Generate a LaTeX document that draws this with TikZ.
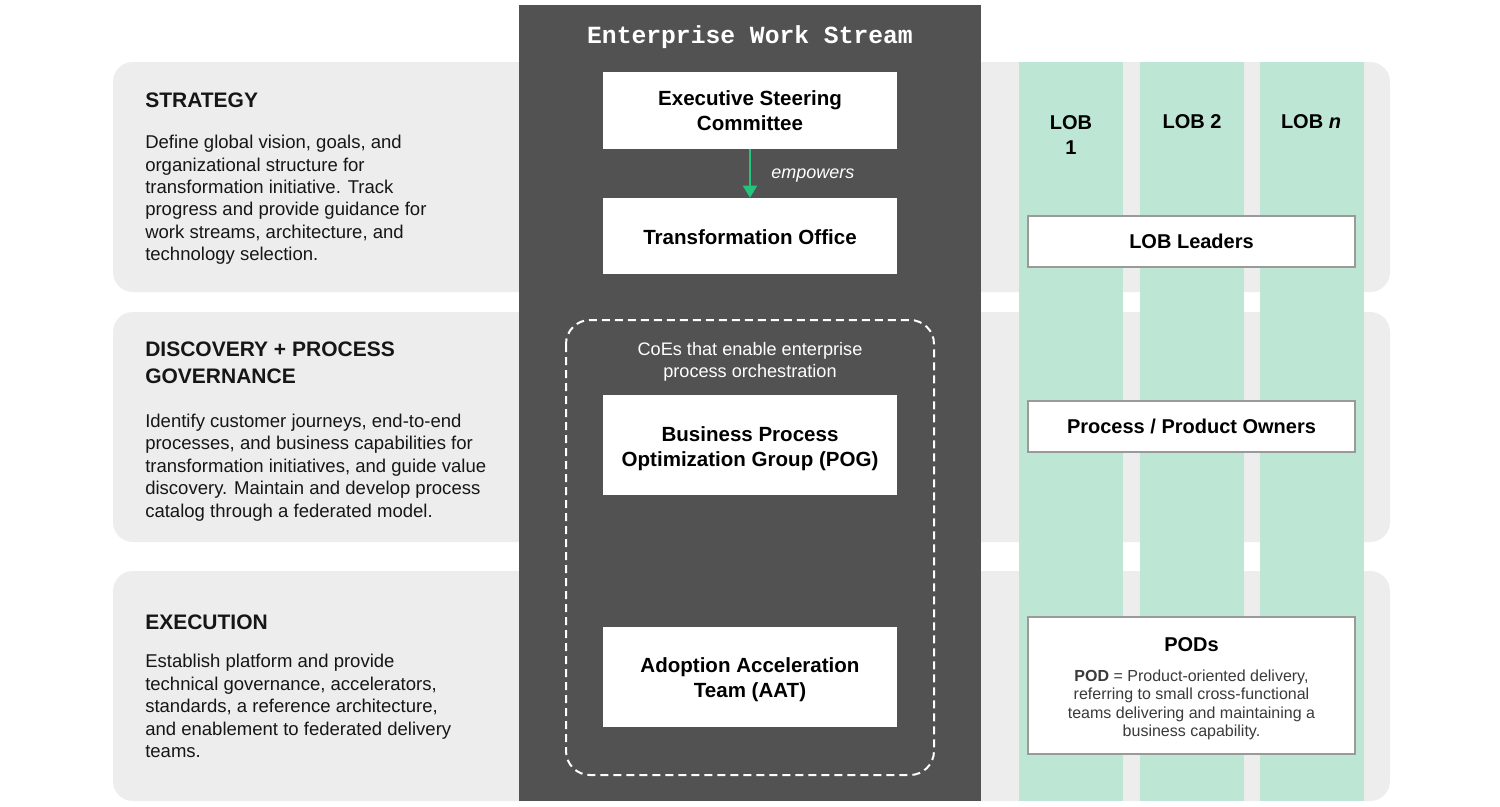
\documentclass[tikz,border=0pt]{standalone}
\usepackage{fontspec}
\setmainfont{Liberation Sans}
\setmonofont{Liberation Mono}
\usetikzlibrary{arrows.meta}
\definecolor{darkcol}{HTML}{525252}
\definecolor{band}{HTML}{EDEDED}
\definecolor{lob}{HTML}{BEE6D4}
\definecolor{arrowgreen}{HTML}{24C47A}
\definecolor{boxline}{HTML}{9A9A9A}
\definecolor{txt}{HTML}{161616}
\definecolor{subtxt}{HTML}{3A3A3A}
\begin{document}
\begin{tikzpicture}[x=0.75pt,y=-0.75pt,
  bandbox/.style={fill=band, rounded corners=15pt},
  lobcol/.style={fill=lob},
  heading/.style={anchor=west, inner sep=0pt, align=left, text=txt, font=\fontsize{15.75}{20.25}\selectfont\bfseries},
  bodytext/.style={anchor=west, inner sep=0pt, align=left, text=txt, font=\fontsize{13.9}{16.8}\selectfont},
  wsbox/.style={fill=white, draw=none, minimum width=220.5pt, inner sep=0pt},
  wstext/.style={inner sep=0pt, align=center, text=black, font=\fontsize{15.4}{18.75}\selectfont\bfseries},
  lobbox/.style={fill=white, draw=boxline, line width=1.5pt, minimum width=245.25pt, minimum height=38.25pt, inner sep=0pt, align=center, text=black, font=\fontsize{15}{18.75}\selectfont\bfseries},
  lobhead/.style={inner sep=0pt, align=center, text=black, font=\fontsize{15}{18.75}\selectfont\bfseries},
  flow/.style={draw=arrowgreen, line width=1.5pt, -{Triangle[width=10.5pt,length=9pt]}}
]
\useasboundingbox (0,0) rectangle (1500,807);
\fill[white] (0,0) rectangle (1500,807);
% row bands
\fill[bandbox] (113,62) rectangle (1390,292);
\fill[bandbox] (113,312) rectangle (1390,542);
\fill[bandbox] (113,571) rectangle (1390,801);
% LOB columns
\fill[lobcol] (1019,62) rectangle (1123,801);
\fill[lobcol] (1140,62) rectangle (1244,801);
\fill[lobcol] (1260,62) rectangle (1364,801);
% enterprise column
\fill[darkcol] (519,5) rectangle (981,801);
\node[text=white, font=\ttfamily\bfseries\fontsize{18.5}{22}\selectfont] (title) at (750,37) {Enterprise Work Stream};
% dashed CoE group
\draw[white, line width=1.5pt, dash pattern=on 6pt off 3.75pt, rounded corners=18pt] (566,320) rectangle (934,775);
\node[text=white, align=center, font=\fontsize{13.6}{16.5}\selectfont] (coe) at (750,362) {CoEs that enable enterprise\\process orchestration};
% left texts
\node[heading] (h1) at (145,100) {STRATEGY};
\node[bodytext] (b1) at (145,200) {Define global vision, goals, and\\organizational structure for\\transformation initiative. Track\\progress and provide guidance for\\work streams, architecture, and\\technology selection.};
\node[heading] (h2) at (145,363) {DISCOVERY + PROCESS\\GOVERNANCE};
\node[bodytext] (b2) at (145,467.5) {Identify customer journeys, end-to-end\\processes, and business capabilities for\\transformation initiatives, and guide value\\discovery. Maintain and develop process\\catalog through a federated model.};
\node[heading] (h3) at (145,622) {EXECUTION};
\node[bodytext] (b3) at (145,706) {Establish platform and provide\\technical governance, accelerators,\\standards, a reference architecture,\\and enablement to federated delivery\\teams.};
% work stream boxes
\node[wsbox, minimum height=57.75pt] (esc) at (750,110.5) {};
\node[wstext] (esct) at (750,111) {Executive Steering\\Committee};
\node[wsbox, minimum height=57pt] (to) at (750,236) {};
\node[wstext] (tot) at (750,237) {Transformation Office};
\node[wsbox, minimum height=75pt] (pog) at (750,445) {};
\node[wstext] (pogt) at (750,449) {Business Process\\Optimization Group (POG)};
\node[wsbox, minimum height=75pt] (aat) at (750,677) {};
\node[wstext] (aatt) at (750,680) {Adoption Acceleration\\Team (AAT)};
\draw[flow] (esc.south) -- (to.north);
\node[anchor=west, inner sep=0pt, text=white, font=\fontsize{13.5}{16}\selectfont\itshape] (emp) at (771,176) {empowers};
% LOB headers
\node[lobhead] (lob1) at (1071,135) {LOB\\1};
\node[lobhead] (lob2) at (1192,122) {LOB 2};
\node[lobhead] (lobn) at (1311,122) {LOB \textit{n}};
% LOB boxes
\node[lobbox] (leaders) at (1191.5,241.5) {LOB Leaders};
\node[lobbox] (owners) at (1191.5,426.5) {Process / Product Owners};
\node[lobbox, minimum height=102.75pt] (pods) at (1191.5,685.5) {};
\node[lobhead] (podst) at (1191.5,645) {PODs};
\node[inner sep=0pt, align=center, text=subtxt, font=\fontsize{12}{13.9}\selectfont] (podsd) at (1191.5,705) {\textbf{POD} = Product-oriented delivery,\\referring to small cross-functional\\teams delivering and maintaining a\\business capability.};
\end{tikzpicture}
\end{document}
